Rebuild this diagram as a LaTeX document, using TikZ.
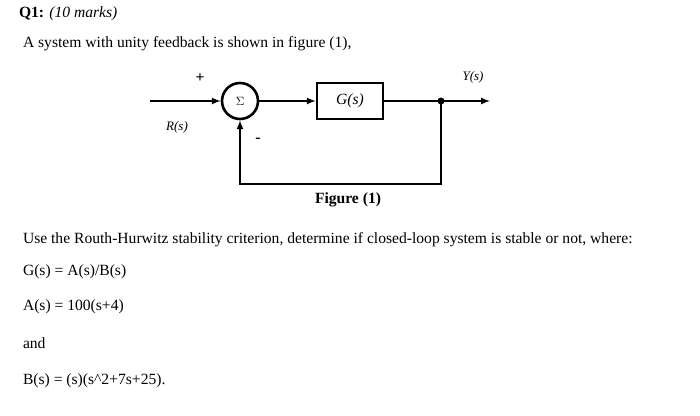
\documentclass[tikz,border=0pt]{standalone}
\usepackage{fontspec}
\setmainfont{Liberation Serif}
\usetikzlibrary{positioning,arrows}
\begin{document}
\fontsize{15.6}{18}\selectfont
\begin{tikzpicture}[x=1pt,y=-1pt,>=latex,line width=2pt,
  txt/.style={anchor=west,inner sep=0pt},
  sum/.style={circle,draw,line width=2.6pt,minimum size=36pt,inner sep=0pt},
  block/.style={draw,line width=2.6pt,minimum width=66pt,minimum height=36pt},
  lbl/.style={inner sep=0pt,font=\itshape\fontsize{13}{15}\selectfont}, ]
	\useasboundingbox (0,0) rectangle (700,415);

	\node[txt] (q) at (18,14) {\textbf{Q1:} \textit{(10 marks)}};
	\node[txt] (intro) at (22,44) {A system with unity feedback is shown in figure (1),};

	\coordinate (in) at (150,101);
	\node[sum] (s) at (240,101) {\fontsize{13}{13}\selectfont$\Sigma$};
	\node[block] (g) at (350,101) {\itshape G(s)};
	\coordinate (tap) at (441,101);
	\coordinate (out) at (490,101);
	\coordinate (c1) at (441,184);
	\coordinate (c2) at (240,184);

	\draw[->] (in) -- (s);
	\draw[->] (s) -- (g);
	\draw (g) -- (tap);
	\draw[->] (tap) -- (out);
	\fill (tap) circle (3.5pt);
	\draw[->] (tap) -- (c1) -- (c2) -- (s);

	\node[inner sep=0pt,font=\bfseries] (plus) at (200,78) {+};
	\node[inner sep=0pt,font=\bfseries] (minus) at (258,140) {-};
	\node[lbl] (r) at (177,127) {R(s)};
	\node[lbl] (y) at (473,77) {Y(s)};
	\node[inner sep=0pt,font=\bfseries] (fig) at (348,200) {Figure (1)};

	\node[txt] (use) at (22,240) {Use the Routh-Hurwitz stability criterion, determine if closed-loop system is stable or not, where:};
	\node[txt] (gs) at (22,272) {G(s) = A(s)/B(s)};
	\node[txt] (as) at (22,307) {A(s) = 100(s+4)};
	\node[txt] (and) at (22,343) {and};
	\node[txt] (bs) at (22,381) {B(s) = (s)(s\^{}2+7s+25).};
\end{tikzpicture}
\end{document}
